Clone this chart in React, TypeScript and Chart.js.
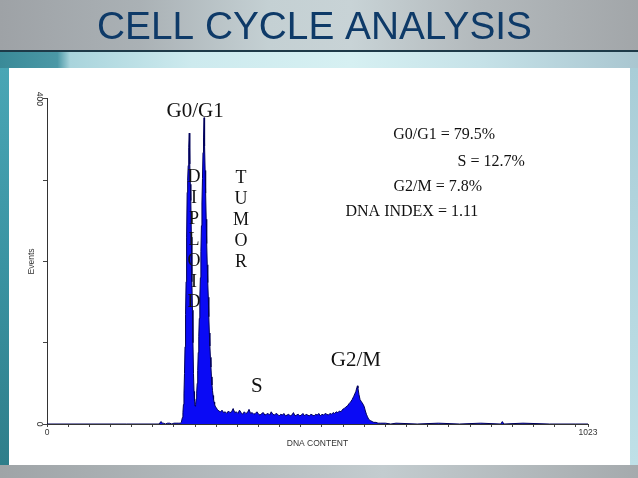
import React, { useEffect, useRef } from 'react';
import { Chart, registerables } from 'chart.js';

Chart.register(...registerables);

const slideTitle = 'CELL CYCLE ANALYSIS';
const xAxisTitle = 'DNA CONTENT';
const yAxisTitle = 'Events';

// DNA content channel (x) and event counts (y)
const channels = [
  0, 150, 212, 214, 216, 218, 220, 224, 228, 232, 236, 240, 244, 248, 252,
  254, 256, 257, 258, 259, 260, 261, 262, 263, 264, 265, 266, 267, 268, 269, 270, 271, 272, 273, 274, 275, 276, 277, 278, 279, 280, 281,
  282, 283, 284, 285, 286, 287, 288, 289, 290, 291, 292, 293, 294, 295, 296, 297, 298, 299, 300, 301, 302, 303, 304, 305, 306, 307, 308, 309, 310, 311, 312, 313, 314, 315, 316, 317, 318, 320, 322,
  325, 328, 331, 334, 337, 340, 343, 346, 349, 352,
  355, 358, 361, 364, 367, 370, 373, 376, 379, 382,
  385, 388, 391, 394, 397, 400, 403, 406, 409, 412,
  415, 418, 421, 424, 427, 430, 433, 436, 439, 442,
  445, 448, 451, 454, 457, 460, 463, 466, 469, 472,
  475, 478, 481, 484, 487, 490, 493, 496, 499, 502,
  505, 508, 511, 514, 517, 520, 523, 526, 529, 532,
  535, 538, 541, 544, 547, 550, 553, 556, 559,
  562, 565, 568, 571, 574, 577, 580, 582, 584, 586, 587, 588, 590, 592, 594, 596, 598, 600, 602, 604, 606, 608, 610, 612, 615, 618, 622, 626, 630, 640, 650,
  660, 700, 740, 780, 820, 858, 861, 864, 900, 950, 1000, 1023,
];

const events = [
  0, 0, 0, 2, 3, 1, 1, 0, 1, 1, 0, 1, 1, 1, 1,
  2, 8, 14, 24, 37, 62, 95, 135, 175, 230, 285, 300, 318, 340, 358, 320, 295, 275, 230, 175, 140, 100, 62, 40, 28, 22, 24,
  31, 38, 50, 66, 88, 108, 130, 155, 180, 212, 244, 272, 302, 334, 352, 377, 342, 312, 284, 252, 222, 196, 174, 156, 132, 112, 96, 82, 70, 58, 48, 41, 35, 30, 27, 24, 22, 20, 18,
  16, 15, 17, 14, 15, 13, 16, 14, 15, 19,
  14, 15, 13, 17, 14, 12, 15, 13, 14, 18,
  13, 14, 12, 13, 15, 12, 11, 13, 14, 11,
  12, 13, 11, 15, 12, 11, 13, 12, 10, 12,
  11, 13, 10, 11, 12, 10, 11, 14, 10, 11,
  12, 10, 11, 13, 10, 12, 11, 10, 12, 11,
  10, 12, 11, 13, 10, 12, 11, 13, 12, 11,
  13, 12, 14, 13, 15, 14, 16, 15, 18,
  19, 21, 22, 25, 27, 30, 34, 37, 40, 45, 47, 44, 36, 30, 28, 26, 24, 21, 16, 12, 9, 6, 5, 4, 3, 2, 2, 1, 1, 1, 0,
  1, 0, 1, 0, 1, 0, 3, 0, 1, 0, 0, 0,
];

const xTicks = [0, 40, 80, 120, 160, 200, 240, 280, 320, 360, 400, 440, 480, 520, 560, 600, 640, 680, 720, 760, 800, 840, 880, 920, 960, 1000, 1023];
const xLabeled = [0, 1023];
const yTicks = [0, 100, 200, 300, 400];
const yLabeled = [0, 400];

// Text annotations placed in data coordinates (channel, events)
const annotations = [
  { text: 'G0/G1', ch: 280, ev: 385, size: 21 },
  { text: 'DIPLOID', ch: 278, ev: 304, size: 18, vertical: true, step: 25.8 },
  { text: 'TUMOR', ch: 367, ev: 302, size: 18, vertical: true, step: 25.8 },
  { text: 'S', ch: 397, ev: 46.6, size: 21 },
  { text: 'G2/M', ch: 584, ev: 78.5, size: 21 },
  { text: 'G0/G1 = 79.5%', ch: 751, ev: 355.8, size: 16 },
  { text: 'S = 12.7%', ch: 840, ev: 322.7, size: 16 },
  { text: 'G2/M = 7.8%', ch: 739, ev: 292, size: 16 },
  { text: 'DNA INDEX = 1.11', ch: 690, ev: 261.3, size: 16 },
];

const sans = '"Liberation Sans", Arial, sans-serif';
const serif = '"Liberation Serif", "Times New Roman", serif';

const annotationPlugin = {
  id: 'textAnnotations',
  afterDatasetsDraw(chart: any) {
    const { ctx, scales } = chart;
    const xs = scales.x;
    const ys = scales.y;
    ctx.save();
    ctx.fillStyle = '#111111';
    ctx.textAlign = 'center';
    ctx.textBaseline = 'middle';
    for (const a of annotations as any[]) {
      ctx.font = `${a.size}px ${serif}`;
      const px = xs.getPixelForValue(a.ch);
      if (a.vertical) {
        a.text.split('').forEach((c: string, i: number) => {
          ctx.fillText(c, px, ys.getPixelForValue(a.ev - i * a.step));
        });
      } else {
        ctx.fillText(a.text, px, ys.getPixelForValue(a.ev));
      }
    }
    ctx.restore();
  },
};

export default function App() {
  const canvasRef = useRef<HTMLCanvasElement | null>(null);

  useEffect(() => {
    const canvas = canvasRef.current;
    if (!canvas) return;
    const points = channels.map((c, i) => ({ x: c, y: events[i] }));
    const chart = new Chart(canvas, {
      type: 'line',
      data: {
        datasets: [
          {
            data: points,
            fill: 'origin',
            backgroundColor: '#0a0af5',
            borderColor: '#00005a',
            borderWidth: 1,
            pointRadius: 0,
            tension: 0,
          },
        ],
      },
      options: {
        responsive: false,
        animation: false,
        events: [],
        layout: { padding: { left: 0, right: 9, top: 0, bottom: 29.6 } },
        plugins: {
          legend: { display: false },
          tooltip: { enabled: false },
          title: {
            display: true,
            text: slideTitle,
            color: '#0e3a68',
            font: { family: sans, size: 38.8, weight: 'normal' },
            padding: { top: 5.2, bottom: 47.2 },
          },
        },
        scales: {
          x: {
            type: 'linear',
            min: 0,
            max: 1023,
            afterBuildTicks: (s: any) => {
              s.ticks = xTicks.map((v) => ({ value: v }));
            },
            ticks: {
              autoSkip: false,
              minRotation: 0,
              maxRotation: 0,
              padding: 1,
              color: '#333333',
              font: { family: sans, size: 8.5 },
              callback: (v: any) => (xLabeled.includes(Number(v)) ? String(v) : ''),
            },
            grid: { drawOnChartArea: false, tickLength: 3, color: '#444444' },
            border: { color: '#333333', width: 1 },
            title: {
              display: true,
              text: xAxisTitle,
              color: '#333333',
              font: { family: sans, size: 8.5 },
              padding: { top: -1, bottom: 0 },
            },
          },
          y: {
            type: 'linear',
            position: 'left',
            min: 0,
            max: 400,
            afterBuildTicks: (s: any) => {
              s.ticks = yTicks.map((v) => ({ value: v }));
            },
            afterFit: (s: any) => {
              s.width = 47;
            },
            ticks: {
              autoSkip: false,
              minRotation: -90,
              maxRotation: -90,
              crossAlign: 'center',
              padding: -3,
              color: '#333333',
              font: { family: sans, size: 8.5 },
              callback: (v: any) => (yLabeled.includes(Number(v)) ? String(v) : ''),
            },
            grid: { drawOnChartArea: false, tickLength: 4, color: '#444444' },
            border: { color: '#333333', width: 1 },
            title: {
              display: true,
              text: yAxisTitle,
              color: '#333333',
              font: { family: sans, size: 8.5 },
              padding: { top: 26.6, bottom: 0 },
            },
          },
          y2: {
            type: 'linear',
            position: 'right',
            min: 0,
            max: 1,
            afterFit: (s: any) => {
              s.width = 41;
            },
            ticks: { display: false },
            grid: { display: false },
            border: { display: false },
          },
        },
      },
      plugins: [annotationPlugin],
    } as any);
    return () => chart.destroy();
  }, []);

  const abs = (l: number, t: number, w: number, h: number, bg: string): React.CSSProperties => ({
    position: 'absolute',
    left: l,
    top: t,
    width: w,
    height: h,
    background: bg,
  });

  return (
    <div style={{ position: 'absolute', left: 0, top: 0, width: 638, height: 478, overflow: 'hidden', background: '#ffffff' }}>
      <div style={abs(0, 0, 638, 50, 'linear-gradient(90deg, #9ea2a6 0%, #aab1b5 22%, #c4d0d3 42%, #c8d3d6 55%, #b3b9bc 75%, #a2a6a9 100%)')} />
      <div style={abs(0, 50, 638, 2, '#1d3a48')} />
      <div style={abs(0, 52, 638, 16, 'linear-gradient(90deg, #3a8a98 0%, #4b98a6 9%, #a9d4dc 11%, #cdeaee 30%, #d6f0f2 55%, #c6e2e8 75%, #a9c6d0 100%)')} />
      <div style={abs(0, 68, 9, 397, 'linear-gradient(180deg, #4aa6b5 0%, #3a93a2 50%, #2f7e8a 100%)')} />
      <div style={abs(630, 68, 8, 397, 'linear-gradient(180deg, #a9cdd7 0%, #bfe0e7 100%)')} />
      <div style={abs(0, 465, 638, 13, 'linear-gradient(90deg, #9fa4a7 0%, #b6bec1 40%, #c3cccf 60%, #a5aaad 100%)')} />
      <canvas ref={canvasRef} width={638} height={478} style={{ position: 'absolute', left: 0, top: 0, width: 638, height: 478 }} />
    </div>
  );
}
